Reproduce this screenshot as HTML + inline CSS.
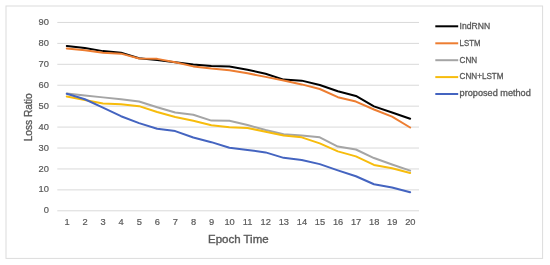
<!DOCTYPE html>
<html><head><meta charset="utf-8"><style>
html,body{margin:0;padding:0;background:#fff;}
body{width:550px;height:265px;overflow:hidden;}
svg{display:block;filter:blur(0.4px);}
text{font-family:"Liberation Sans",Arial,sans-serif;fill:#595959;}
.t{stroke:#595959;stroke-width:0.2px;}
</style></head><body>
<svg width="550" height="265" viewBox="0 0 550 265">
<rect x="6" y="6" width="536.6" height="252.4" fill="#fff" stroke="#dcdcdc" stroke-width="1"/>

<line x1="57.3" x2="419" y1="210.80" y2="210.80" stroke="#d9d9d9" stroke-width="1"/>
<line x1="57.3" x2="419" y1="189.87" y2="189.87" stroke="#d9d9d9" stroke-width="1"/>
<line x1="57.3" x2="419" y1="168.94" y2="168.94" stroke="#d9d9d9" stroke-width="1"/>
<line x1="57.3" x2="419" y1="148.02" y2="148.02" stroke="#d9d9d9" stroke-width="1"/>
<line x1="57.3" x2="419" y1="127.09" y2="127.09" stroke="#d9d9d9" stroke-width="1"/>
<line x1="57.3" x2="419" y1="106.16" y2="106.16" stroke="#d9d9d9" stroke-width="1"/>
<line x1="57.3" x2="419" y1="85.23" y2="85.23" stroke="#d9d9d9" stroke-width="1"/>
<line x1="57.3" x2="419" y1="64.31" y2="64.31" stroke="#d9d9d9" stroke-width="1"/>
<line x1="57.3" x2="419" y1="43.38" y2="43.38" stroke="#d9d9d9" stroke-width="1"/>
<line x1="57.3" x2="419" y1="22.45" y2="22.45" stroke="#d9d9d9" stroke-width="1"/>
<text class="t" x="48.9" y="213.40" font-size="9.3" text-anchor="end">0</text>
<text class="t" x="48.9" y="192.47" font-size="9.3" text-anchor="end">10</text>
<text class="t" x="48.9" y="171.54" font-size="9.3" text-anchor="end">20</text>
<text class="t" x="48.9" y="150.62" font-size="9.3" text-anchor="end">30</text>
<text class="t" x="48.9" y="129.69" font-size="9.3" text-anchor="end">40</text>
<text class="t" x="48.9" y="108.76" font-size="9.3" text-anchor="end">50</text>
<text class="t" x="48.9" y="87.83" font-size="9.3" text-anchor="end">60</text>
<text class="t" x="48.9" y="66.91" font-size="9.3" text-anchor="end">70</text>
<text class="t" x="48.9" y="45.98" font-size="9.3" text-anchor="end">80</text>
<text class="t" x="48.9" y="25.05" font-size="9.3" text-anchor="end">90</text>
<text class="t" x="67.00" y="225" font-size="9.3" text-anchor="middle">1</text>
<text class="t" x="85.07" y="225" font-size="9.3" text-anchor="middle">2</text>
<text class="t" x="103.14" y="225" font-size="9.3" text-anchor="middle">3</text>
<text class="t" x="121.21" y="225" font-size="9.3" text-anchor="middle">4</text>
<text class="t" x="139.28" y="225" font-size="9.3" text-anchor="middle">5</text>
<text class="t" x="157.35" y="225" font-size="9.3" text-anchor="middle">6</text>
<text class="t" x="175.42" y="225" font-size="9.3" text-anchor="middle">7</text>
<text class="t" x="193.49" y="225" font-size="9.3" text-anchor="middle">8</text>
<text class="t" x="211.56" y="225" font-size="9.3" text-anchor="middle">9</text>
<text class="t" x="229.63" y="225" font-size="9.3" text-anchor="middle">10</text>
<text class="t" x="247.70" y="225" font-size="9.3" text-anchor="middle">11</text>
<text class="t" x="265.77" y="225" font-size="9.3" text-anchor="middle">12</text>
<text class="t" x="283.84" y="225" font-size="9.3" text-anchor="middle">13</text>
<text class="t" x="301.91" y="225" font-size="9.3" text-anchor="middle">14</text>
<text class="t" x="319.98" y="225" font-size="9.3" text-anchor="middle">15</text>
<text class="t" x="338.05" y="225" font-size="9.3" text-anchor="middle">16</text>
<text class="t" x="356.12" y="225" font-size="9.3" text-anchor="middle">17</text>
<text class="t" x="374.19" y="225" font-size="9.3" text-anchor="middle">18</text>
<text class="t" x="392.26" y="225" font-size="9.3" text-anchor="middle">19</text>
<text class="t" x="410.33" y="225" font-size="9.3" text-anchor="middle">20</text>
<polyline points="66.80,45.89 84.87,47.98 102.94,51.12 121.01,52.80 139.08,58.24 157.15,60.12 175.22,62.21 193.29,64.51 211.36,65.98 229.43,66.40 247.50,69.75 265.57,73.72 283.64,79.58 301.71,80.63 319.78,85.02 337.85,91.30 355.92,95.91 373.99,106.37 392.06,112.44 410.13,118.72" fill="none" stroke="#000000" stroke-width="2.0" stroke-linejoin="round" stroke-linecap="round"/>
<polyline points="66.80,48.40 84.87,50.28 102.94,52.80 121.01,53.63 139.08,58.45 157.15,58.86 175.22,62.21 193.29,66.40 211.36,68.49 229.43,70.17 247.50,73.30 265.57,76.86 283.64,80.42 301.71,84.40 319.78,89.00 337.85,97.16 355.92,101.56 373.99,109.51 392.06,116.62 410.13,127.51" fill="none" stroke="#ED7D31" stroke-width="2.0" stroke-linejoin="round" stroke-linecap="round"/>
<polyline points="66.80,93.60 84.87,95.49 102.94,97.37 121.01,99.25 139.08,101.56 157.15,107.21 175.22,112.44 193.29,114.74 211.36,120.60 229.43,120.81 247.50,125.00 265.57,130.02 283.64,134.20 301.71,135.46 319.78,137.34 337.85,146.55 355.92,149.48 373.99,158.06 392.06,164.55 410.13,170.62" fill="none" stroke="#A5A5A5" stroke-width="2.0" stroke-linejoin="round" stroke-linecap="round"/>
<polyline points="66.80,96.53 84.87,100.09 102.94,103.44 121.01,104.28 139.08,106.16 157.15,112.02 175.22,116.94 193.29,120.81 211.36,125.21 229.43,127.30 247.50,127.93 265.57,131.69 283.64,135.46 301.71,137.34 319.78,143.41 337.85,151.37 355.92,156.39 373.99,164.97 392.06,168.32 410.13,172.92" fill="none" stroke="#F7BC0C" stroke-width="2.0" stroke-linejoin="round" stroke-linecap="round"/>
<polyline points="66.80,93.81 84.87,99.25 102.94,107.63 121.01,116.21 139.08,123.11 157.15,128.76 175.22,131.07 193.29,137.55 211.36,142.16 229.43,147.81 247.50,149.90 265.57,152.41 283.64,157.85 301.71,159.95 319.78,164.13 337.85,170.41 355.92,176.27 373.99,184.22 392.06,187.57 410.13,192.17" fill="none" stroke="#4464C0" stroke-width="2.0" stroke-linejoin="round" stroke-linecap="round"/>
<text class="t" style="stroke-width:0.35px" x="208.0" y="243.0" font-size="10.5" textLength="60.6" lengthAdjust="spacingAndGlyphs">Epoch Time</text>
<text class="t" style="stroke-width:0.35px" transform="translate(31.8,141.3) rotate(-90)" x="0" y="0" font-size="11" textLength="48.0" lengthAdjust="spacingAndGlyphs">Loss Ratio</text>
<line x1="435.3" x2="458.2" y1="26.3" y2="26.3" stroke="#000000" stroke-width="2.0"/>
<text class="t" style="stroke-width:0.3px" x="459.6" y="28.60" font-size="8.6" textLength="30.6" lengthAdjust="spacingAndGlyphs">IndRNN</text>
<line x1="435.3" x2="458.2" y1="43.3" y2="43.3" stroke="#ED7D31" stroke-width="2.0"/>
<text class="t" style="stroke-width:0.3px" x="459.6" y="45.60" font-size="8.6" textLength="20.8" lengthAdjust="spacingAndGlyphs">LSTM</text>
<line x1="435.3" x2="458.2" y1="60.2" y2="60.2" stroke="#A5A5A5" stroke-width="2.0"/>
<text class="t" style="stroke-width:0.3px" x="459.6" y="62.50" font-size="8.6" textLength="17.6" lengthAdjust="spacingAndGlyphs">CNN</text>
<line x1="435.3" x2="458.2" y1="77.1" y2="77.1" stroke="#F7BC0C" stroke-width="2.0"/>
<text class="t" style="stroke-width:0.3px" x="459.6" y="79.40" font-size="8.6" textLength="44.0" lengthAdjust="spacingAndGlyphs">CNN+LSTM</text>
<line x1="435.3" x2="458.2" y1="94.0" y2="94.0" stroke="#4464C0" stroke-width="2.0"/>
<text class="t" style="stroke-width:0.3px" x="459.6" y="96.30" font-size="8.6" textLength="71.2" lengthAdjust="spacingAndGlyphs">proposed method</text>
</svg></body></html>
